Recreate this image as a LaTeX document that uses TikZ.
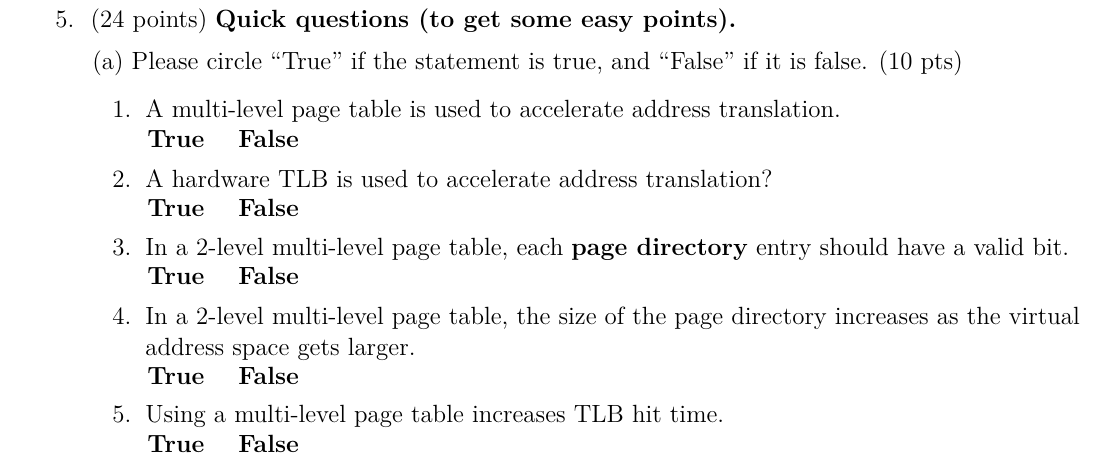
\documentclass[tikz,border=0pt]{standalone}
\begin{document}
\begin{tikzpicture}[x=0.01693cm,y=-0.01693cm,t/.style={anchor=base west,inner sep=0pt,font=\fontsize{12}{14}\selectfont}]
\useasboundingbox (0,0) rectangle (1106,472);
\node[t] (h) at (55,27) {5.\ \ (24 points) \textbf{Quick questions (to get some easy points).}};
\node[t] (a) at (92,69) {(a) Please circle ``True'' if the statement is true, and ``False'' if it is false. (10 pts)};
\node[t] (n1) at (112,117) {1.};
\node[t] (q1) at (145,117) {A multi-level page table is used to accelerate address translation.};
\node[t] (t1) at (147,147) {\textbf{True}};
\node[t] (f1) at (238,147) {\textbf{False}};
\node[t] (n2) at (112,187) {2.};
\node[t] (q2) at (145,187) {A hardware TLB is used to accelerate address translation?};
\node[t] (t2) at (147,216) {\textbf{True}};
\node[t] (f2) at (238,216) {\textbf{False}};
\node[t] (n3) at (112,255) {3.};
\node[t] (q3) at (145,255) {In a 2-level multi-level page table, each \textbf{page directory} entry should have a valid bit.};
\node[t] (t3) at (147,284) {\textbf{True}};
\node[t] (f3) at (238,284) {\textbf{False}};
\node[t] (n4) at (112,324) {4.};
\node[t] (q4) at (145,324) {In a 2-level multi-level page table, the size of the page directory increases as the virtual};
\node[t] (q4b) at (145,355) {address space gets larger.};
\node[t] (t4) at (147,384) {\textbf{True}};
\node[t] (f4) at (238,384) {\textbf{False}};
\node[t] (n5) at (112,422) {5.};
\node[t] (q5) at (145,422) {Using a multi-level page table increases TLB hit time.};
\node[t] (t5) at (147,452) {\textbf{True}};
\node[t] (f5) at (238,452) {\textbf{False}};
\end{tikzpicture}
\end{document}
